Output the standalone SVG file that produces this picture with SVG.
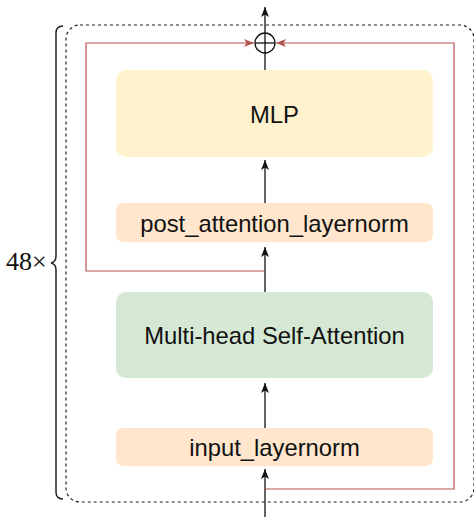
<svg xmlns="http://www.w3.org/2000/svg" width="474" height="525" viewBox="0 0 474 525">
  <style>
    .box-text { font-family: "Liberation Sans", Arial, sans-serif; font-size: 23.8px; fill: #111; text-anchor: middle; dominant-baseline: central; }
    .conn { fill: none; stroke: #111; stroke-width: 1.3; }
    .res { fill: none; stroke: #b85450; stroke-width: 1.2; }
  </style>
  <defs>
    <marker id="ah" viewBox="0 0 10 8" refX="10" refY="4" markerWidth="10" markerHeight="9" markerUnits="userSpaceOnUse" orient="auto">
      <path d="M0,0 L10,4 L0,8 L2.5,4 Z" fill="#111"/>
    </marker>
    <marker id="ahr" viewBox="0 0 10 8" refX="10" refY="4" markerWidth="10" markerHeight="9" markerUnits="userSpaceOnUse" orient="auto">
      <path d="M0,0 L10,4 L0,8 L2.5,4 Z" fill="#b85450"/>
    </marker>
  </defs>

  <g id="layer-frame">
    <rect x="66" y="25" width="408" height="477" rx="14" fill="none" stroke="#222" stroke-width="1.2" stroke-dasharray="3,3"/>
  </g>

  <g id="repeat-brace">
    <path d="M63,26 Q56,26 56,33 L56,256 Q56,262 51,263 Q56,264 56,270 L56,492 Q56,499 63,499" fill="none" stroke="#222" stroke-width="1.5"/>
    <text x="6" y="270" font-family="Liberation Serif, 'Times New Roman', serif" font-size="26" fill="#111">48×</text>
  </g>

  <g id="mlp">
    <rect x="116" y="70" width="317" height="87" rx="10" fill="#fff2cc"/>
    <text class="box-text" x="274.5" y="114">MLP</text>
  </g>

  <g id="post_attention_layernorm">
    <rect x="116" y="203" width="317" height="39" rx="7" fill="#ffe6cc"/>
    <text class="box-text" x="274.5" y="223">post_attention_layernorm</text>
  </g>

  <g id="mhsa">
    <rect x="116" y="292" width="317" height="86" rx="10" fill="#d5e8d4"/>
    <text class="box-text" x="274.5" y="335">Multi-head Self-Attention</text>
  </g>

  <g id="input_layernorm">
    <rect x="116" y="428" width="317" height="38" rx="7" fill="#ffe6cc"/>
    <text class="box-text" x="274.5" y="447">input_layernorm</text>
  </g>

  <g id="add">
    <circle cx="265" cy="43" r="10" fill="none" stroke="#111" stroke-width="1.3"/>
    <line x1="255" y1="43" x2="275" y2="43" stroke="#111" stroke-width="1.3"/>
  </g>

  <g id="connectors">
    <line class="conn" x1="265" y1="517" x2="265" y2="469" marker-end="url(#ah)"/>
    <line class="conn" x1="265" y1="428" x2="265" y2="383" marker-end="url(#ah)"/>
    <line class="conn" x1="265" y1="292" x2="265" y2="247" marker-end="url(#ah)"/>
    <line class="conn" x1="265" y1="203" x2="265" y2="160" marker-end="url(#ah)"/>
    <line class="conn" x1="265" y1="70" x2="265" y2="33"/>
    <line class="conn" x1="265" y1="33" x2="265" y2="7" marker-end="url(#ah)"/>
    <polyline class="res" points="265,489 454,489 454,43 276,43" marker-end="url(#ahr)"/>
    <polyline class="res" points="265,271 86,271 86,43 254,43" marker-end="url(#ahr)"/>
  </g>
</svg>
